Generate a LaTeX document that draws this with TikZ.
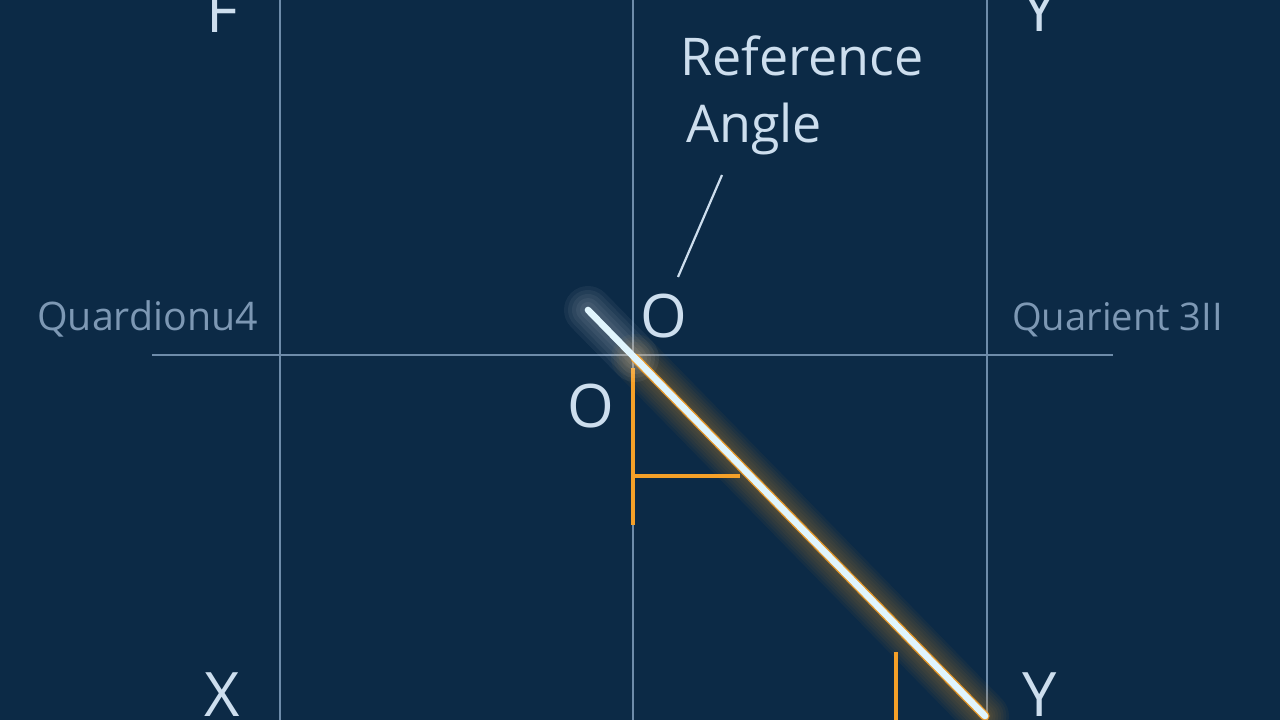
\documentclass[tikz,border=0pt]{standalone}
\usepackage{fontspec}
\setmainfont{Open Sans}
\begin{document}
\begin{tikzpicture}[x=0.75pt,y=-0.75pt,
  gridline/.style={draw=gridc,line width=0.9pt},
  axislabel/.style={text=labc,font=\fontsize{46}{46}\selectfont,inner sep=0pt,anchor=base},
  quadlabel/.style={text=quadc,font=\fontsize{29.5}{29.5}\selectfont,inner sep=0pt,anchor=base west},
  titlelabel/.style={text=labc,font=\fontsize{39}{40}\selectfont,inner sep=0pt,anchor=base west},
  olabel/.style={text=labc,font=\fontsize{45}{45}\selectfont,inner sep=0pt},
  orangeline/.style={draw=orangec,line width=2.7pt},
  pointer/.style={draw=labc,line width=1.65pt}
]
\definecolor{navy}{RGB}{12,42,70}
\definecolor{gridc}{RGB}{110,140,170}
\definecolor{labc}{RGB}{205,222,238}
\definecolor{quadc}{RGB}{125,152,180}
\definecolor{orangec}{RGB}{245,160,40}
\useasboundingbox (0,0) rectangle (1280,720);
\fill[navy] (0,0) rectangle (1280,720);
% grid
\coordinate (v1t) at (280,0); \coordinate (v1b) at (280,720);
\coordinate (v2t) at (633,0); \coordinate (v2b) at (633,720);
\coordinate (v3t) at (987,0); \coordinate (v3b) at (987,720);
\coordinate (hl) at (152,355); \coordinate (hr) at (1113,355);
\draw[gridline] (v1t) -- (v1b);
\draw[gridline] (v2t) -- (v2b);
\draw[gridline] (v3t) -- (v3b);
\draw[gridline] (hl) -- (hr);
% axis letters
\node[axislabel] (F) at (222,33) {F};
\node[axislabel] (Yt) at (1040,32) {Y};
\node[axislabel] (X) at (222,716) {X};
\node[axislabel] (Yb) at (1040,716) {Y};
% quadrant labels
\node[quadlabel] (q4) at (37,330) {Quardionu4};
\node[quadlabel,font=\fontsize{28.6}{28.6}\selectfont] (q3) at (1012,330) {Quarient 3II};
% title
\node[titlelabel] (ref) at (680,76) {Reference};
\node[titlelabel] (ang) at (686,143) {Angle};
\coordinate (pa) at (722,175);
\coordinate (pb) at (678,277);
\draw[pointer] (pa) -- (pb);
% O labels
\node[olabel] (O1) at (664,316) {O};
\node[olabel] (O2) at (591,406) {O};
% orange construction
\coordinate (oa) at (633,368); \coordinate (ob) at (633,525);
\coordinate (oc) at (633,476); \coordinate (od) at (740,476);
\coordinate (oe) at (896,652); \coordinate (of) at (896,720);
\draw[orangeline] (oa) -- (ob);
\draw[orangeline] (oc) -- (od);
\draw[orangeline] (oe) -- (of);
% glowing terminal line
\coordinate (ls) at (588,310);
\coordinate (le) at (985,716);
\coordinate (lm) at (635,358);
\foreach \w in {36,32,28,24,20,16,12,9}
  \draw[orangec,opacity=0.045,line width=\w pt,line cap=round] (lm) -- (le);
\foreach \w in {36,30,24,18,12}
  \draw[white,opacity=0.05,line width=\w pt,line cap=round] (ls) -- (lm);
\draw[orangec,opacity=0.9,line width=7pt,line cap=round] (lm) -- (le);
\draw[white!88!cyan,line width=5pt,line cap=round] (ls) -- (le);
\end{tikzpicture}
\end{document}
